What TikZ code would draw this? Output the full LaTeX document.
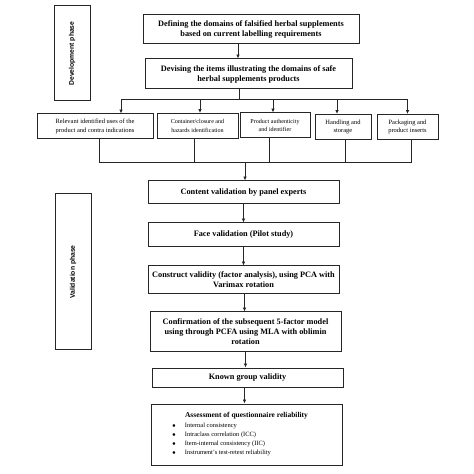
\documentclass[tikz,border=0pt]{standalone}
\usepackage{fontspec}
\setmainfont{Liberation Serif}
\newfontfamily\phasefont{Liberation Sans}
\usetikzlibrary{arrows.meta}
\tikzset{%
  >={Latex[width=3.6pt,length=4pt]},
  base/.style = {rectangle, draw=black!85, line width=1pt,
      inner sep=1pt, align=center},
  phase/.style = {base, minimum width=36bp,
      font=\phasefont\bfseries\fontsize{6.8}{7}\selectfont},
  mainstep/.style = {base, minimum width=191bp,
      font=\bfseries\fontsize{8.3}{10}\selectfont},
  domainbox/.style = {base, minimum height=25bp,
      font=\fontsize{6.5}{8.6}\selectfont},
  link/.style = {line width=1pt, draw=black!85},
}

\begin{document}
\begin{tikzpicture}[x=1bp, y=1bp, node distance=45bp]
  \useasboundingbox (0,0) rectangle (474,474);
  % Phase labels on the left
  \node (devPhase)  [phase, minimum height=95bp]  at (72,420.5)
                                        {\rotatebox{90}{Development phase}};
  \node (valPhase)  [phase, minimum height=156bp] at (73,202)
                                        {\rotatebox{90}{Validation phase}};
  % Development phase
  \node (defining)  [mainstep, minimum width=216bp, minimum height=29bp]
                                                         at (251,444.5)
     {Defining the domains of falsified herbal supplements\\
      based on current labelling requirements};
  \node (devising)  [mainstep, minimum width=207bp, minimum height=30bp]
                                                         at (248.5,400)
     {Devising the items illustrating the domains of safe\\
      herbal supplements products};
  \node (uses)      [domainbox, minimum width=116bp] at (95,347.5)
     {Relevant identified uses of the\\ product and contra indications};
  \node (container) [domainbox, minimum width=81bp, font=\fontsize{6.1}{8.6}\selectfont]
                                                  at (197.5,348)
     {Container/closure and\\ hazards identification};
  \node (authentic) [domainbox, minimum width=70bp, font=\fontsize{6.1}{8.6}\selectfont]
                                                  at (275,348.5)
     {Product authenticity\\ and identifier};
  \node (handling)  [domainbox, minimum width=56bp]  at (343,347)
     {Handling and\\ storage};
  \node (packaging) [domainbox, minimum width=61bp]  at (407.5,347)
     {Packaging and\\ product inserts};
  % Validation phase
  \node (content)   [mainstep, minimum height=23bp] at (243.5,281.5)
     {Content validation by panel experts};
  \node (face)      [mainstep, minimum height=24bp, below of=content, yshift=2.5bp]
     {Face validation (Pilot study)};
  \node (construct) [mainstep, minimum height=28bp, below of=face]
     {Construct validity (factor analysis), using PCA with\\ Varimax rotation};
  \node (confirm)   [mainstep, minimum height=39bp, below of=construct,
                     xshift=2bp, yshift=-6.5bp]
     {Confirmation of the subsequent 5-factor model\\
      using through PCFA using MLA with oblimin\\ rotation};
  \node (known)     [mainstep, minimum height=19bp, below of=confirm,
                     xshift=2bp, yshift=-1bp]
     {Known group validity};
  \node (reliability) [mainstep, minimum height=61bp, below of=known,
                     xshift=-1bp, yshift=-12bp]
     {{\fontsize{7.5}{9}\selectfont Assessment of questionnaire reliability}\\[1pt]
      {\mdseries\fontsize{6.5}{9}\selectfont
       \begin{tabular}{@{}c@{\hspace{9bp}}l@{\hspace{50bp}}}
         $\bullet$ & Internal consistency\\
         $\bullet$ & Intraclass correlation (ICC)\\
         $\bullet$ & Item-internal consistency (IIC)\\
         $\bullet$ & Instrument's test-retest reliability
       \end{tabular}}};
  % Branching and merging points
  \coordinate (split) at (239,374);
  \coordinate (merge) at (245,311);
  % Connectors
  \draw[->, link] ([xshift=-13bp]defining.south) -- ([xshift=-13bp]defining.south |- devising.north);
  \draw[link] (devising.south -| split) -- (split);
  \draw[link] ([xshift=26bp]uses.north |- split) -- (packaging.north |- split);
  \draw[->, link] ([xshift=26bp]uses.north |- split)      -- ([xshift=26bp]uses.north);
  \draw[->, link] ([xshift=2.5bp]container.north |- split) -- ([xshift=2.5bp]container.north);
  \draw[->, link] ([xshift=-2bp]authentic.north |- split)  -- ([xshift=-2bp]authentic.north);
  \draw[->, link] ([xshift=-6bp]handling.north |- split)   -- ([xshift=-6bp]handling.north);
  \draw[->, link] (packaging.north |- split)              -- (packaging.north);
  \draw[link] ([xshift=4bp]uses.south)      -- ([xshift=4bp]uses.south |- merge);
  \draw[link] ([xshift=-3.5bp]container.south) -- ([xshift=-3.5bp]container.south |- merge);
  \draw[link] ([xshift=-6bp]authentic.south)  -- ([xshift=-6bp]authentic.south |- merge);
  \draw[link] ([xshift=2bp]handling.south)    -- ([xshift=2bp]handling.south |- merge);
  \draw[link] ([xshift=3.5bp]packaging.south) -- ([xshift=3.5bp]packaging.south |- merge);
  \draw[link] ([xshift=4bp]uses.south |- merge) -- ([xshift=3.5bp]packaging.south |- merge);
  \draw[->, link] (merge) -- (merge |- content.north);
  \draw[->, link] (content.south) -- (content.south |- face.north);
  \draw[->, link] (face.south)    -- (face.south |- construct.north);
  \draw[->, link] ([xshift=1bp]construct.south) -- ([xshift=1bp]construct.south |- confirm.north);
  \draw[->, link] (confirm.south) -- (confirm.south |- known.north);
  \draw[->, link] ([xshift=-3bp]known.south) -- ([xshift=-3bp]known.south |- reliability.north);
\end{tikzpicture}
\end{document}
